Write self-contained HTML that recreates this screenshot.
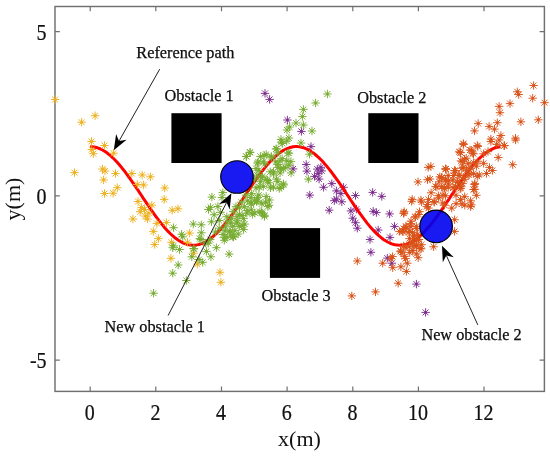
<!DOCTYPE html>
<html><head><meta charset="utf-8"><title>Plot</title><style>html,body{margin:0;padding:0;background:#fff;width:550px;height:456px;overflow:hidden}svg{display:block}</style></head><body>
<svg width="550" height="456" viewBox="0 0 550 456">
<rect width="550" height="456" fill="#fff"/>
<g stroke="#707070" stroke-width="1.45" fill="none">
<rect x="55" y="6.5" width="489.4" height="384.9"/>
<path d="M90.2 391.4v-4.8M90.2 6.5v4.8M155.8 391.4v-4.8M155.8 6.5v4.8M221.5 391.4v-4.8M221.5 6.5v4.8M287.1 391.4v-4.8M287.1 6.5v4.8M352.8 391.4v-4.8M352.8 6.5v4.8M418.4 391.4v-4.8M418.4 6.5v4.8M484.0 391.4v-4.8M484.0 6.5v4.8M55 31.6h4.8M544.4 31.6h-4.8M55 195.9h4.8M544.4 195.9h-4.8M55 360.2h4.8M544.4 360.2h-4.8" stroke-width="1.2"/>
</g>
<path d="M260.8 93.4h8.4M265.0 89.2v8.4M262.0 90.4l5.9 5.9M262.0 96.4l5.9 -5.9M265.4 99.4h8.4M269.6 95.2v8.4M266.6 96.4l5.9 5.9M266.6 102.4l5.9 -5.9M283.2 120.0h8.4M287.4 115.8v8.4M284.4 117.0l5.9 5.9M284.4 123.0l5.9 -5.9M297.2 131.4h8.4M301.4 127.2v8.4M298.4 128.4l5.9 5.9M298.4 134.4l5.9 -5.9M306.8 146.6h8.4M311.0 142.4v8.4M308.0 143.6l5.9 5.9M308.0 149.6l5.9 -5.9M302.0 164.5h8.4M306.2 160.3v8.4M303.2 161.5l5.9 5.9M303.2 167.5l5.9 -5.9M288.9 168.9h8.4M293.1 164.7v8.4M290.1 165.9l5.9 5.9M290.1 171.9l5.9 -5.9M302.7 171.1h8.4M306.9 166.9v8.4M303.9 168.1l5.9 5.9M303.9 174.1l5.9 -5.9M305.6 195.1h8.4M309.8 190.9v8.4M306.8 192.1l5.9 5.9M306.8 198.1l5.9 -5.9M313.1 169.1h8.4M317.3 164.9v8.4M314.3 166.1l5.9 5.9M314.3 172.1l5.9 -5.9M316.7 167.3h8.4M320.9 163.1v8.4M317.9 164.3l5.9 5.9M317.9 170.3l5.9 -5.9M314.0 173.6h8.4M318.2 169.4v8.4M315.2 170.6l5.9 5.9M315.2 176.6l5.9 -5.9M310.3 176.4h8.4M314.5 172.2v8.4M311.5 173.4l5.9 5.9M311.5 179.4l5.9 -5.9M317.6 170.9h8.4M321.8 166.7v8.4M318.8 167.9l5.9 5.9M318.8 173.9l5.9 -5.9M314.9 179.1h8.4M319.1 174.9v8.4M316.1 176.1l5.9 5.9M316.1 182.1l5.9 -5.9M319.4 187.3h8.4M323.6 183.1v8.4M320.6 184.3l5.9 5.9M320.6 190.3l5.9 -5.9M327.6 183.6h8.4M331.8 179.4v8.4M328.8 180.6l5.9 5.9M328.8 186.6l5.9 -5.9M332.2 190.9h8.4M336.4 186.7v8.4M333.4 187.9l5.9 5.9M333.4 193.9l5.9 -5.9M339.4 187.3h8.4M343.6 183.1v8.4M340.6 184.3l5.9 5.9M340.6 190.3l5.9 -5.9M336.7 193.6h8.4M340.9 189.4v8.4M337.9 190.6l5.9 5.9M337.9 196.6l5.9 -5.9M332.2 199.1h8.4M336.4 194.9v8.4M333.4 196.1l5.9 5.9M333.4 202.1l5.9 -5.9M337.6 201.8h8.4M341.8 197.6v8.4M338.8 198.8l5.9 5.9M338.8 204.8l5.9 -5.9M351.3 195.5h8.4M355.5 191.3v8.4M352.5 192.5l5.9 5.9M352.5 198.5l5.9 -5.9M368.5 192.4h8.4M372.7 188.2v8.4M369.7 189.4l5.9 5.9M369.7 195.4l5.9 -5.9M377.6 196.4h8.4M381.8 192.2v8.4M378.8 193.4l5.9 5.9M378.8 199.4l5.9 -5.9M325.0 210.2h8.4M329.2 206.0v8.4M326.2 207.2l5.9 5.9M326.2 213.2l5.9 -5.9M330.1 200.7h8.4M334.3 196.5v8.4M331.3 197.7l5.9 5.9M331.3 203.7l5.9 -5.9M346.7 210.9h8.4M350.9 206.7v8.4M347.9 207.9l5.9 5.9M347.9 213.9l5.9 -5.9M352.2 209.1h8.4M356.4 204.9v8.4M353.4 206.1l5.9 5.9M353.4 212.1l5.9 -5.9M348.5 218.2h8.4M352.7 214.0v8.4M349.7 215.2l5.9 5.9M349.7 221.2l5.9 -5.9M351.3 222.7h8.4M355.5 218.5v8.4M352.5 219.7l5.9 5.9M352.5 225.7l5.9 -5.9M353.1 228.2h8.4M357.3 224.0v8.4M354.3 225.2l5.9 5.9M354.3 231.2l5.9 -5.9M369.0 211.3h8.4M373.2 207.1v8.4M370.2 208.3l5.9 5.9M370.2 214.3l5.9 -5.9M372.2 212.6h8.4M376.4 208.4v8.4M373.4 209.6l5.9 5.9M373.4 215.6l5.9 -5.9M390.3 226.4h8.4M394.5 222.2v8.4M391.5 223.4l5.9 5.9M391.5 229.4l5.9 -5.9M374.0 230.0h8.4M378.2 225.8v8.4M375.2 227.0l5.9 5.9M375.2 233.0l5.9 -5.9M365.8 239.5h8.4M370.0 235.3v8.4M367.0 236.5l5.9 5.9M367.0 242.5l5.9 -5.9M385.8 237.4h8.4M390.0 233.2v8.4M387.0 234.4l5.9 5.9M387.0 240.4l5.9 -5.9M366.7 252.3h8.4M370.9 248.1v8.4M367.9 249.3l5.9 5.9M367.9 255.3l5.9 -5.9M383.1 258.1h8.4M387.3 253.9v8.4M384.3 255.1l5.9 5.9M384.3 261.1l5.9 -5.9M387.6 263.2h8.4M391.8 259.0v8.4M388.8 260.2l5.9 5.9M388.8 266.2l5.9 -5.9M412.2 284.1h8.4M416.4 279.9v8.4M413.4 281.1l5.9 5.9M413.4 287.1l5.9 -5.9M385.4 213.9h8.4M389.6 209.7v8.4M386.6 210.9l5.9 5.9M386.6 216.9l5.9 -5.9M421.4 312.4h8.4M425.6 308.2v8.4M422.6 309.4l5.9 5.9M422.6 315.4l5.9 -5.9" stroke="#7E2F8E" stroke-width="0.95" fill="none"/><path d="M265.0 93.4h0M269.6 99.4h0M287.4 120.0h0M301.4 131.4h0M311.0 146.6h0M306.2 164.5h0M293.1 168.9h0M306.9 171.1h0M309.8 195.1h0M317.3 169.1h0M320.9 167.3h0M318.2 173.6h0M314.5 176.4h0M321.8 170.9h0M319.1 179.1h0M323.6 187.3h0M331.8 183.6h0M336.4 190.9h0M343.6 187.3h0M340.9 193.6h0M336.4 199.1h0M341.8 201.8h0M355.5 195.5h0M372.7 192.4h0M381.8 196.4h0M329.2 210.2h0M334.3 200.7h0M350.9 210.9h0M356.4 209.1h0M352.7 218.2h0M355.5 222.7h0M357.3 228.2h0M373.2 211.3h0M376.4 212.6h0M394.5 226.4h0M378.2 230.0h0M370.0 239.5h0M390.0 237.4h0M370.9 252.3h0M387.3 258.1h0M391.8 263.2h0M416.4 284.1h0M389.6 213.9h0M425.6 312.4h0" stroke="#7E2F8E" stroke-width="2.6" stroke-linecap="round" fill="none"/>
<polyline points="90.2,146.6 92.3,146.7 94.3,147.0 96.4,147.5 98.4,148.1 100.5,149.0 102.5,150.0 104.6,151.2 106.6,152.6 108.7,154.2 110.7,155.9 112.8,157.8 114.8,159.8 116.9,162.0 118.9,164.3 121.0,166.7 123.0,169.3 125.1,171.9 127.1,174.6 129.2,177.5 131.2,180.4 133.3,183.3 135.3,186.3 137.4,189.3 139.4,192.4 141.5,195.5 143.5,198.6 145.6,201.6 147.6,204.7 149.7,207.7 151.7,210.7 153.8,213.6 155.8,216.4 157.9,219.2 159.9,221.8 162.0,224.4 164.0,226.9 166.1,229.2 168.1,231.4 170.2,233.5 172.2,235.4 174.3,237.2 176.4,238.8 178.4,240.2 180.5,241.5 182.5,242.6 184.6,243.5 186.6,244.2 188.7,244.7 190.7,245.1 192.8,245.2 194.8,245.2 196.9,244.9 198.9,244.5 201.0,243.9 203.0,243.1 205.1,242.1 207.1,240.9 209.2,239.6 211.2,238.0 213.3,236.4 215.3,234.5 217.4,232.5 219.4,230.4 221.5,228.1 223.5,225.7 225.6,223.2 227.6,220.6 229.7,217.9 231.7,215.1 233.8,212.2 235.8,209.3 237.9,206.3 239.9,203.3 242.0,200.2 244.0,197.1 246.1,194.0 248.1,191.0 250.2,187.9 252.2,184.9 254.3,181.9 256.4,179.0 258.4,176.1 260.5,173.3 262.5,170.7 264.6,168.1 266.6,165.6 268.7,163.2 270.7,161.0 272.8,158.9 274.8,156.9 276.9,155.1 278.9,153.4 281.0,152.0 283.0,150.6 285.1,149.5 287.1,148.6 289.2,147.8 291.2,147.2 293.3,146.8 295.3,146.6 297.4,146.6 299.4,146.8 301.5,147.2 303.5,147.7 305.6,148.5 307.6,149.4 309.7,150.6 311.7,151.9 313.8,153.3 315.8,155.0 317.9,156.8 319.9,158.7 322.0,160.8 324.0,163.1 326.1,165.4 328.1,167.9 330.2,170.5 332.2,173.2 334.3,176.0 336.4,178.8 338.4,181.7 340.5,184.7 342.5,187.7 344.6,190.8 346.6,193.9 348.7,196.9 350.7,200.0 352.8,203.1 354.8,206.1 356.9,209.1 358.9,212.0 361.0,214.9 363.0,217.7 365.1,220.4 367.1,223.1 369.2,225.6 371.2,228.0 373.3,230.3 375.3,232.4 377.4,234.4 379.4,236.2 381.5,237.9 383.5,239.5 385.6,240.8 387.6,242.0 389.7,243.0 391.7,243.8 393.8,244.5 395.8,244.9 397.9,245.1 399.9,245.2 402.0,245.1 404.0,244.7 406.1,244.2 408.1,243.5 410.2,242.6 412.2,241.5 414.3,240.3 416.3,238.9 418.4,237.3 420.5,235.5 422.5,233.6 424.6,231.5 426.6,229.3 428.7,227.0 430.7,224.6 432.8,222.0 434.8,219.3 436.9,216.6 438.9,213.8 441.0,210.9 443.0,207.9 445.1,204.9 447.1,201.8 449.2,198.8 451.2,195.7 453.3,192.6 455.3,189.5 457.4,186.5 459.4,183.5 461.5,180.5 463.5,177.6 465.6,174.8 467.6,172.1 469.7,169.4 471.7,166.9 473.8,164.4 475.8,162.1 477.9,160.0 479.9,157.9 482.0,156.0 484.0,154.3 486.1,152.7 488.1,151.3 490.2,150.1 492.2,149.0 494.3,148.2 496.3,147.5 498.4,147.0 500.4,146.7" fill="none" stroke="#f00" stroke-width="3" stroke-linejoin="round"/>
<path d="M50.9 99.5h8.4M55.1 95.3v8.4M52.1 96.5l5.9 5.9M52.1 102.5l5.9 -5.9M90.9 115.7h8.4M95.1 111.5v8.4M92.1 112.7l5.9 5.9M92.1 118.7l5.9 -5.9M77.4 122.2h8.4M81.6 118.0v8.4M78.6 119.2l5.9 5.9M78.6 125.2l5.9 -5.9M87.3 141.4h8.4M91.5 137.2v8.4M88.5 138.4l5.9 5.9M88.5 144.4l5.9 -5.9M100.3 145.5h8.4M104.5 141.3v8.4M101.5 142.5l5.9 5.9M101.5 148.5l5.9 -5.9M87.6 149.5h8.4M91.8 145.3v8.4M88.8 146.5l5.9 5.9M88.8 152.5l5.9 -5.9M89.1 153.7h8.4M93.3 149.5v8.4M90.3 150.7l5.9 5.9M90.3 156.7l5.9 -5.9M109.4 153.2h8.4M113.6 149.0v8.4M110.6 150.2l5.9 5.9M110.6 156.2l5.9 -5.9M70.3 172.6h8.4M74.5 168.4v8.4M71.5 169.6l5.9 5.9M71.5 175.6l5.9 -5.9M98.3 169.0h8.4M102.5 164.8v8.4M99.5 166.0l5.9 5.9M99.5 172.0l5.9 -5.9M100.8 171.0h8.4M105.0 166.8v8.4M102.0 168.0l5.9 5.9M102.0 174.0l5.9 -5.9M111.3 173.5h8.4M115.5 169.3v8.4M112.5 170.5l5.9 5.9M112.5 176.5l5.9 -5.9M99.4 179.9h8.4M103.6 175.7v8.4M100.6 176.9l5.9 5.9M100.6 182.9l5.9 -5.9M113.1 187.7h8.4M117.3 183.5v8.4M114.3 184.7l5.9 5.9M114.3 190.7l5.9 -5.9M100.3 193.5h8.4M104.5 189.3v8.4M101.5 190.5l5.9 5.9M101.5 196.5l5.9 -5.9M108.9 193.2h8.4M113.1 189.0v8.4M110.1 190.2l5.9 5.9M110.1 196.2l5.9 -5.9M127.6 173.5h8.4M131.8 169.3v8.4M128.8 170.5l5.9 5.9M128.8 176.5l5.9 -5.9M138.0 175.0h8.4M142.2 170.8v8.4M139.2 172.0l5.9 5.9M139.2 178.0l5.9 -5.9M146.2 176.8h8.4M150.4 172.6v8.4M147.4 173.8l5.9 5.9M147.4 179.8l5.9 -5.9M133.1 184.5h8.4M137.3 180.3v8.4M134.3 181.5l5.9 5.9M134.3 187.5l5.9 -5.9M139.4 185.0h8.4M143.6 180.8v8.4M140.6 182.0l5.9 5.9M140.6 188.0l5.9 -5.9M133.8 201.5h8.4M138.0 197.3v8.4M135.0 198.5l5.9 5.9M135.0 204.5l5.9 -5.9M137.4 207.4h8.4M141.6 203.2v8.4M138.6 204.4l5.9 5.9M138.6 210.4l5.9 -5.9M136.0 211.7h8.4M140.2 207.5v8.4M137.2 208.7l5.9 5.9M137.2 214.7l5.9 -5.9M140.3 209.5h8.4M144.5 205.3v8.4M141.5 206.5l5.9 5.9M141.5 212.5l5.9 -5.9M144.7 213.2h8.4M148.9 209.0v8.4M145.9 210.2l5.9 5.9M145.9 216.2l5.9 -5.9M147.6 205.2h8.4M151.8 201.0v8.4M148.8 202.2l5.9 5.9M148.8 208.2l5.9 -5.9M141.1 216.1h8.4M145.3 211.9v8.4M142.3 213.1l5.9 5.9M142.3 219.1l5.9 -5.9M128.7 219.0h8.4M132.9 214.8v8.4M129.9 216.0l5.9 5.9M129.9 222.0l5.9 -5.9M143.3 219.0h8.4M147.5 214.8v8.4M144.5 216.0l5.9 5.9M144.5 222.0l5.9 -5.9M160.0 199.4h8.4M164.2 195.2v8.4M161.2 196.4l5.9 5.9M161.2 202.4l5.9 -5.9M168.0 210.3h8.4M172.2 206.1v8.4M169.2 207.3l5.9 5.9M169.2 213.3l5.9 -5.9M173.8 208.8h8.4M178.0 204.6v8.4M175.0 205.8l5.9 5.9M175.0 211.8l5.9 -5.9M152.7 223.4h8.4M156.9 219.2v8.4M153.9 220.4l5.9 5.9M153.9 226.4l5.9 -5.9M162.2 222.6h8.4M166.4 218.4v8.4M163.4 219.6l5.9 5.9M163.4 225.6l5.9 -5.9M149.1 231.4h8.4M153.3 227.2v8.4M150.3 228.4l5.9 5.9M150.3 234.4l5.9 -5.9M154.2 238.6h8.4M158.4 234.4v8.4M155.4 235.6l5.9 5.9M155.4 241.6l5.9 -5.9M150.5 244.5h8.4M154.7 240.3v8.4M151.7 241.5l5.9 5.9M151.7 247.5l5.9 -5.9M167.3 242.3h8.4M171.5 238.1v8.4M168.5 239.3l5.9 5.9M168.5 245.3l5.9 -5.9M185.4 233.1h8.4M189.6 228.9v8.4M186.6 230.1l5.9 5.9M186.6 236.1l5.9 -5.9M183.3 242.3h8.4M187.5 238.1v8.4M184.5 239.3l5.9 5.9M184.5 245.3l5.9 -5.9M160.5 188.0h8.4M164.7 183.8v8.4M161.7 185.0l5.9 5.9M161.7 191.0l5.9 -5.9M166.7 258.3h8.4M170.9 254.1v8.4M167.9 255.3l5.9 5.9M167.9 261.3l5.9 -5.9M189.4 253.2h8.4M193.6 249.0v8.4M190.6 250.2l5.9 5.9M190.6 256.2l5.9 -5.9M193.1 264.1h8.4M197.3 259.9v8.4M194.3 261.1l5.9 5.9M194.3 267.1l5.9 -5.9M215.8 272.3h8.4M220.0 268.1v8.4M217.0 269.3l5.9 5.9M217.0 275.3l5.9 -5.9M216.7 282.3h8.4M220.9 278.1v8.4M217.9 279.3l5.9 5.9M217.9 285.3l5.9 -5.9" stroke="#EDB120" stroke-width="0.95" fill="none"/><path d="M55.1 99.5h0M95.1 115.7h0M81.6 122.2h0M91.5 141.4h0M104.5 145.5h0M91.8 149.5h0M93.3 153.7h0M113.6 153.2h0M74.5 172.6h0M102.5 169.0h0M105.0 171.0h0M115.5 173.5h0M103.6 179.9h0M117.3 187.7h0M104.5 193.5h0M113.1 193.2h0M131.8 173.5h0M142.2 175.0h0M150.4 176.8h0M137.3 184.5h0M143.6 185.0h0M138.0 201.5h0M141.6 207.4h0M140.2 211.7h0M144.5 209.5h0M148.9 213.2h0M151.8 205.2h0M145.3 216.1h0M132.9 219.0h0M147.5 219.0h0M164.2 199.4h0M172.2 210.3h0M178.0 208.8h0M156.9 223.4h0M166.4 222.6h0M153.3 231.4h0M158.4 238.6h0M154.7 244.5h0M171.5 242.3h0M189.6 233.1h0M187.5 242.3h0M164.7 188.0h0M170.9 258.3h0M193.6 253.2h0M197.3 264.1h0M220.0 272.3h0M220.9 282.3h0" stroke="#EDB120" stroke-width="2.6" stroke-linecap="round" fill="none"/>
<path d="M169.4 227.7h8.4M173.6 223.5v8.4M170.6 224.7l5.9 5.9M170.6 230.7l5.9 -5.9M177.4 234.3h8.4M181.6 230.1v8.4M178.6 231.3l5.9 5.9M178.6 237.3l5.9 -5.9M189.1 224.1h8.4M193.3 219.9v8.4M190.3 221.1l5.9 5.9M190.3 227.1l5.9 -5.9M197.1 224.8h8.4M201.3 220.6v8.4M198.3 221.8l5.9 5.9M198.3 227.8l5.9 -5.9M204.3 209.5h8.4M208.5 205.3v8.4M205.5 206.5l5.9 5.9M205.5 212.5l5.9 -5.9M197.1 232.8h8.4M201.3 228.6v8.4M198.3 229.8l5.9 5.9M198.3 235.8l5.9 -5.9M195.6 238.6h8.4M199.8 234.4v8.4M196.8 235.6l5.9 5.9M196.8 241.6l5.9 -5.9M169.4 245.9h8.4M173.6 241.7v8.4M170.6 242.9l5.9 5.9M170.6 248.9l5.9 -5.9M175.3 249.5h8.4M179.5 245.3v8.4M176.5 246.5l5.9 5.9M176.5 252.5l5.9 -5.9M189.8 248.8h8.4M194.0 244.6v8.4M191.0 245.8l5.9 5.9M191.0 251.8l5.9 -5.9M201.4 243.0h8.4M205.6 238.8v8.4M202.6 240.0l5.9 5.9M202.6 246.0l5.9 -5.9M323.2 94.0h8.4M327.4 89.8v8.4M324.4 91.0l5.9 5.9M324.4 97.0l5.9 -5.9M311.4 103.0h8.4M315.6 98.8v8.4M312.6 100.0l5.9 5.9M312.6 106.0l5.9 -5.9M299.2 109.4h8.4M303.4 105.2v8.4M300.4 106.4l5.9 5.9M300.4 112.4l5.9 -5.9M298.2 116.6h8.4M302.4 112.4v8.4M299.4 113.6l5.9 5.9M299.4 119.6l5.9 -5.9M291.8 123.0h8.4M296.0 118.8v8.4M293.0 120.0l5.9 5.9M293.0 126.0l5.9 -5.9M299.2 125.0h8.4M303.4 120.8v8.4M300.4 122.0l5.9 5.9M300.4 128.0l5.9 -5.9M285.4 127.0h8.4M289.6 122.8v8.4M286.6 124.0l5.9 5.9M286.6 130.0l5.9 -5.9M282.8 130.0h8.4M287.0 125.8v8.4M284.0 127.0l5.9 5.9M284.0 133.0l5.9 -5.9M307.8 131.0h8.4M312.0 126.8v8.4M309.0 128.0l5.9 5.9M309.0 134.0l5.9 -5.9M284.8 138.0h8.4M289.0 133.8v8.4M286.0 135.0l5.9 5.9M286.0 141.0l5.9 -5.9M276.8 139.4h8.4M281.0 135.2v8.4M278.0 136.4l5.9 5.9M278.0 142.4l5.9 -5.9M278.2 143.4h8.4M282.4 139.2v8.4M279.4 140.4l5.9 5.9M279.4 146.4l5.9 -5.9M296.8 143.0h8.4M301.0 138.8v8.4M298.0 140.0l5.9 5.9M298.0 146.0l5.9 -5.9M271.8 149.0h8.4M276.0 144.8v8.4M273.0 146.0l5.9 5.9M273.0 152.0l5.9 -5.9M305.3 154.2h8.4M309.5 150.0v8.4M306.5 151.2l5.9 5.9M306.5 157.2l5.9 -5.9M242.3 156.5h8.4M246.5 152.3v8.4M243.5 153.5l5.9 5.9M243.5 159.5l5.9 -5.9M246.0 152.2h8.4M250.2 148.0v8.4M247.2 149.2l5.9 5.9M247.2 155.2l5.9 -5.9M256.2 156.5h8.4M260.4 152.3v8.4M257.4 153.5l5.9 5.9M257.4 159.5l5.9 -5.9M262.0 154.4h8.4M266.2 150.2v8.4M263.2 151.4l5.9 5.9M263.2 157.4l5.9 -5.9M253.3 163.1h8.4M257.5 158.9v8.4M254.5 160.1l5.9 5.9M254.5 166.1l5.9 -5.9M260.5 163.8h8.4M264.7 159.6v8.4M261.7 160.8l5.9 5.9M261.7 166.8l5.9 -5.9M267.1 157.3h8.4M271.3 153.1v8.4M268.3 154.3l5.9 5.9M268.3 160.3l5.9 -5.9M273.6 152.9h8.4M277.8 148.7v8.4M274.8 149.9l5.9 5.9M274.8 155.9l5.9 -5.9M278.0 158.7h8.4M282.2 154.5v8.4M279.2 155.7l5.9 5.9M279.2 161.7l5.9 -5.9M283.8 152.9h8.4M288.0 148.7v8.4M285.0 149.9l5.9 5.9M285.0 155.9l5.9 -5.9M286.7 161.6h8.4M290.9 157.4v8.4M287.9 158.6l5.9 5.9M287.9 164.6l5.9 -5.9M273.6 164.5h8.4M277.8 160.3v8.4M274.8 161.5l5.9 5.9M274.8 167.5l5.9 -5.9M269.3 171.8h8.4M273.5 167.6v8.4M270.5 168.8l5.9 5.9M270.5 174.8l5.9 -5.9M276.5 168.9h8.4M280.7 164.7v8.4M277.7 165.9l5.9 5.9M277.7 171.9l5.9 -5.9M280.9 167.5h8.4M285.1 163.3v8.4M282.1 164.5l5.9 5.9M282.1 170.5l5.9 -5.9M254.7 170.4h8.4M258.9 166.2v8.4M255.9 167.4l5.9 5.9M255.9 173.4l5.9 -5.9M250.3 179.1h8.4M254.5 174.9v8.4M251.5 176.1l5.9 5.9M251.5 182.1l5.9 -5.9M257.6 177.6h8.4M261.8 173.4v8.4M258.8 174.6l5.9 5.9M258.8 180.6l5.9 -5.9M263.4 180.5h8.4M267.6 176.3v8.4M264.6 177.5l5.9 5.9M264.6 183.5l5.9 -5.9M272.2 179.1h8.4M276.4 174.9v8.4M273.4 176.1l5.9 5.9M273.4 182.1l5.9 -5.9M279.4 184.9h8.4M283.6 180.7v8.4M280.6 181.9l5.9 5.9M280.6 187.9l5.9 -5.9M275.1 188.5h8.4M279.3 184.3v8.4M276.3 185.5l5.9 5.9M276.3 191.5l5.9 -5.9M266.3 187.8h8.4M270.5 183.6v8.4M267.5 184.8l5.9 5.9M267.5 190.8l5.9 -5.9M259.1 186.4h8.4M263.3 182.2v8.4M260.3 183.4l5.9 5.9M260.3 189.4l5.9 -5.9M251.8 187.8h8.4M256.0 183.6v8.4M253.0 184.8l5.9 5.9M253.0 190.8l5.9 -5.9M254.7 195.1h8.4M258.9 190.9v8.4M255.9 192.1l5.9 5.9M255.9 198.1l5.9 -5.9M247.4 193.6h8.4M251.6 189.4v8.4M248.6 190.6l5.9 5.9M248.6 196.6l5.9 -5.9M262.0 196.5h8.4M266.2 192.3v8.4M263.2 193.5l5.9 5.9M263.2 199.5l5.9 -5.9M250.3 200.9h8.4M254.5 196.7v8.4M251.5 197.9l5.9 5.9M251.5 203.9l5.9 -5.9M243.1 200.9h8.4M247.3 196.7v8.4M244.3 197.9l5.9 5.9M244.3 203.9l5.9 -5.9M257.6 203.8h8.4M261.8 199.6v8.4M258.8 200.8l5.9 5.9M258.8 206.8l5.9 -5.9M264.9 205.3h8.4M269.1 201.1v8.4M266.1 202.3l5.9 5.9M266.1 208.3l5.9 -5.9M240.2 206.7h8.4M244.4 202.5v8.4M241.4 203.7l5.9 5.9M241.4 209.7l5.9 -5.9M304.2 179.1h8.4M308.4 174.9v8.4M305.4 176.1l5.9 5.9M305.4 182.1l5.9 -5.9M207.7 197.1h8.4M211.9 192.9v8.4M208.9 194.1l5.9 5.9M208.9 200.1l5.9 -5.9M218.6 192.6h8.4M222.8 188.4v8.4M219.8 189.6l5.9 5.9M219.8 195.6l5.9 -5.9M217.8 197.5h8.4M222.0 193.3v8.4M219.0 194.5l5.9 5.9M219.0 200.5l5.9 -5.9M206.4 207.3h8.4M210.6 203.1v8.4M207.6 204.3l5.9 5.9M207.6 210.3l5.9 -5.9M213.7 206.5h8.4M217.9 202.3v8.4M214.9 203.5l5.9 5.9M214.9 209.5l5.9 -5.9M216.3 212.3h8.4M220.5 208.1v8.4M217.5 209.3l5.9 5.9M217.5 215.3l5.9 -5.9M209.9 214.8h8.4M214.1 210.6v8.4M211.1 211.8l5.9 5.9M211.1 217.8l5.9 -5.9M207.3 221.8h8.4M211.5 217.6v8.4M208.5 218.8l5.9 5.9M208.5 224.8l5.9 -5.9M215.0 220.5h8.4M219.2 216.3v8.4M216.2 217.5l5.9 5.9M216.2 223.5l5.9 -5.9M222.6 216.7h8.4M226.8 212.5v8.4M223.8 213.7l5.9 5.9M223.8 219.7l5.9 -5.9M229.0 211.6h8.4M233.2 207.4v8.4M230.2 208.6l5.9 5.9M230.2 214.6l5.9 -5.9M235.3 207.8h8.4M239.5 203.6v8.4M236.5 204.8l5.9 5.9M236.5 210.8l5.9 -5.9M232.8 216.7h8.4M237.0 212.5v8.4M234.0 213.7l5.9 5.9M234.0 219.7l5.9 -5.9M237.9 215.5h8.4M242.1 211.3v8.4M239.1 212.5l5.9 5.9M239.1 218.5l5.9 -5.9M243.0 210.4h8.4M247.2 206.2v8.4M244.2 207.4l5.9 5.9M244.2 213.4l5.9 -5.9M246.8 204.0h8.4M251.0 199.8v8.4M248.0 201.0l5.9 5.9M248.0 207.0l5.9 -5.9M253.2 197.6h8.4M257.4 193.4v8.4M254.4 194.6l5.9 5.9M254.4 200.6l5.9 -5.9M250.6 212.9h8.4M254.8 208.7v8.4M251.8 209.9l5.9 5.9M251.8 215.9l5.9 -5.9M255.7 211.6h8.4M259.9 207.4v8.4M256.9 208.6l5.9 5.9M256.9 214.6l5.9 -5.9M226.4 223.1h8.4M230.6 218.9v8.4M227.6 220.1l5.9 5.9M227.6 226.1l5.9 -5.9M232.8 223.1h8.4M237.0 218.9v8.4M234.0 220.1l5.9 5.9M234.0 226.1l5.9 -5.9M237.9 225.6h8.4M242.1 221.4v8.4M239.1 222.6l5.9 5.9M239.1 228.6l5.9 -5.9M221.3 226.9h8.4M225.5 222.7v8.4M222.5 223.9l5.9 5.9M222.5 229.9l5.9 -5.9M215.0 228.2h8.4M219.2 224.0v8.4M216.2 225.2l5.9 5.9M216.2 231.2l5.9 -5.9M211.2 232.0h8.4M215.4 227.8v8.4M212.4 229.0l5.9 5.9M212.4 235.0l5.9 -5.9M218.8 234.5h8.4M223.0 230.3v8.4M220.0 231.5l5.9 5.9M220.0 237.5l5.9 -5.9M226.4 232.0h8.4M230.6 227.8v8.4M227.6 229.0l5.9 5.9M227.6 235.0l5.9 -5.9M229.0 237.1h8.4M233.2 232.9v8.4M230.2 234.1l5.9 5.9M230.2 240.1l5.9 -5.9M220.1 240.3h8.4M224.3 236.1v8.4M221.3 237.3l5.9 5.9M221.3 243.3l5.9 -5.9M206.1 239.6h8.4M210.3 235.4v8.4M207.3 236.6l5.9 5.9M207.3 242.6l5.9 -5.9M246.8 197.6h8.4M251.0 193.4v8.4M248.0 194.6l5.9 5.9M248.0 200.6l5.9 -5.9M241.7 195.1h8.4M245.9 190.9v8.4M242.9 192.1l5.9 5.9M242.9 198.1l5.9 -5.9M252.3 201.5h8.4M256.5 197.3v8.4M253.5 198.5l5.9 5.9M253.5 204.5l5.9 -5.9M257.3 212.4h8.4M261.5 208.2v8.4M258.5 209.4l5.9 5.9M258.5 215.4l5.9 -5.9M260.3 215.3h8.4M264.5 211.1v8.4M261.5 212.3l5.9 5.9M261.5 218.3l5.9 -5.9M265.3 200.0h8.4M269.5 195.8v8.4M266.5 197.0l5.9 5.9M266.5 203.0l5.9 -5.9M168.5 247.7h8.4M172.7 243.5v8.4M169.7 244.7l5.9 5.9M169.7 250.7l5.9 -5.9M174.0 265.0h8.4M178.2 260.8v8.4M175.2 262.0l5.9 5.9M175.2 268.0l5.9 -5.9M168.5 273.2h8.4M172.7 269.0v8.4M169.7 270.2l5.9 5.9M169.7 276.2l5.9 -5.9M182.2 280.5h8.4M186.4 276.3v8.4M183.4 277.5l5.9 5.9M183.4 283.5l5.9 -5.9M149.4 293.2h8.4M153.6 289.0v8.4M150.6 290.2l5.9 5.9M150.6 296.2l5.9 -5.9M187.6 256.8h8.4M191.8 252.6v8.4M188.8 253.8l5.9 5.9M188.8 259.8l5.9 -5.9M198.5 262.3h8.4M202.7 258.1v8.4M199.7 259.3l5.9 5.9M199.7 265.3l5.9 -5.9M194.9 259.5h8.4M199.1 255.3v8.4M196.1 256.5l5.9 5.9M196.1 262.5l5.9 -5.9M206.7 256.8h8.4M210.9 252.6v8.4M207.9 253.8l5.9 5.9M207.9 259.8l5.9 -5.9M212.2 247.7h8.4M216.4 243.5v8.4M213.4 244.7l5.9 5.9M213.4 250.7l5.9 -5.9M202.2 251.4h8.4M206.4 247.2v8.4M203.4 248.4l5.9 5.9M203.4 254.4l5.9 -5.9M196.7 239.5h8.4M200.9 235.3v8.4M197.9 236.5l5.9 5.9M197.9 242.5l5.9 -5.9M204.0 243.2h8.4M208.2 239.0v8.4M205.2 240.2l5.9 5.9M205.2 246.2l5.9 -5.9M224.9 254.1h8.4M229.1 249.9v8.4M226.1 251.1l5.9 5.9M226.1 257.1l5.9 -5.9M220.3 237.7h8.4M224.5 233.5v8.4M221.5 234.7l5.9 5.9M221.5 240.7l5.9 -5.9M229.4 236.8h8.4M233.6 232.6v8.4M230.6 233.8l5.9 5.9M230.6 239.8l5.9 -5.9M178.5 236.8h8.4M182.7 232.6v8.4M179.7 233.8l5.9 5.9M179.7 239.8l5.9 -5.9M189.4 248.6h8.4M193.6 244.4v8.4M190.6 245.6l5.9 5.9M190.6 251.6l5.9 -5.9M245.7 152.6h8.4M249.9 148.4v8.4M246.9 149.6l5.9 5.9M246.9 155.6l5.9 -5.9M241.9 156.4h8.4M246.1 152.2v8.4M243.1 153.4l5.9 5.9M243.1 159.4l5.9 -5.9M277.0 142.2h8.4M281.2 138.0v8.4M278.2 139.2l5.9 5.9M278.2 145.2l5.9 -5.9M282.5 141.1h8.4M286.7 136.9v8.4M283.7 138.1l5.9 5.9M283.7 144.1l5.9 -5.9M272.6 148.8h8.4M276.8 144.6v8.4M273.8 145.8l5.9 5.9M273.8 151.8l5.9 -5.9M284.7 153.2h8.4M288.9 149.0v8.4M285.9 150.2l5.9 5.9M285.9 156.2l5.9 -5.9M260.0 155.4h8.4M264.2 151.2v8.4M261.2 152.4l5.9 5.9M261.2 158.4l5.9 -5.9M267.1 156.4h8.4M271.3 152.2v8.4M268.3 153.4l5.9 5.9M268.3 159.4l5.9 -5.9M254.0 161.9h8.4M258.2 157.7v8.4M255.2 158.9l5.9 5.9M255.2 164.9l5.9 -5.9M259.4 161.9h8.4M263.6 157.7v8.4M260.6 158.9l5.9 5.9M260.6 164.9l5.9 -5.9M271.5 161.9h8.4M275.7 157.7v8.4M272.7 158.9l5.9 5.9M272.7 164.9l5.9 -5.9M275.9 160.8h8.4M280.1 156.6v8.4M277.1 157.8l5.9 5.9M277.1 163.8l5.9 -5.9M282.5 160.8h8.4M286.7 156.6v8.4M283.7 157.8l5.9 5.9M283.7 163.8l5.9 -5.9M273.7 167.4h8.4M277.9 163.2v8.4M274.9 164.4l5.9 5.9M274.9 170.4l5.9 -5.9M279.2 168.5h8.4M283.4 164.3v8.4M280.4 165.5l5.9 5.9M280.4 171.5l5.9 -5.9M284.7 165.2h8.4M288.9 161.0v8.4M285.9 162.2l5.9 5.9M285.9 168.2l5.9 -5.9M251.8 168.5h8.4M256.0 164.3v8.4M253.0 165.5l5.9 5.9M253.0 171.5l5.9 -5.9M266.0 171.8h8.4M270.2 167.6v8.4M267.2 168.8l5.9 5.9M267.2 174.8l5.9 -5.9M269.3 174.0h8.4M273.5 169.8v8.4M270.5 171.0l5.9 5.9M270.5 177.0l5.9 -5.9M275.9 172.9h8.4M280.1 168.7v8.4M277.1 169.9l5.9 5.9M277.1 175.9l5.9 -5.9M252.9 175.1h8.4M257.1 170.9v8.4M254.1 172.1l5.9 5.9M254.1 178.1l5.9 -5.9M258.3 176.2h8.4M262.5 172.0v8.4M259.5 173.2l5.9 5.9M259.5 179.2l5.9 -5.9M262.7 179.5h8.4M266.9 175.3v8.4M263.9 176.5l5.9 5.9M263.9 182.5l5.9 -5.9M256.2 181.7h8.4M260.4 177.5v8.4M257.4 178.7l5.9 5.9M257.4 184.7l5.9 -5.9M264.9 182.8h8.4M269.1 178.6v8.4M266.1 179.8l5.9 5.9M266.1 185.8l5.9 -5.9M273.7 181.7h8.4M277.9 177.5v8.4M274.9 178.7l5.9 5.9M274.9 184.7l5.9 -5.9M279.2 183.9h8.4M283.4 179.7v8.4M280.4 180.9l5.9 5.9M280.4 186.9l5.9 -5.9M255.1 187.2h8.4M259.3 183.0v8.4M256.3 184.2l5.9 5.9M256.3 190.2l5.9 -5.9M269.3 187.2h8.4M273.5 183.0v8.4M270.5 184.2l5.9 5.9M270.5 190.2l5.9 -5.9M277.0 187.2h8.4M281.2 183.0v8.4M278.2 184.2l5.9 5.9M278.2 190.2l5.9 -5.9M286.9 172.9h8.4M291.1 168.7v8.4M288.1 169.9l5.9 5.9M288.1 175.9l5.9 -5.9M237.2 202.2h8.4M241.4 198.0v8.4M238.4 199.2l5.9 5.9M238.4 205.2l5.9 -5.9M247.1 203.3h8.4M251.3 199.1v8.4M248.3 200.3l5.9 5.9M248.3 206.3l5.9 -5.9M253.7 201.1h8.4M257.9 196.9v8.4M254.9 198.1l5.9 5.9M254.9 204.1l5.9 -5.9M261.4 202.2h8.4M265.6 198.0v8.4M262.6 199.2l5.9 5.9M262.6 205.2l5.9 -5.9M263.6 206.6h8.4M267.8 202.4v8.4M264.8 203.6l5.9 5.9M264.8 209.6l5.9 -5.9M247.1 209.9h8.4M251.3 205.7v8.4M248.3 206.9l5.9 5.9M248.3 212.9l5.9 -5.9M258.1 213.2h8.4M262.3 209.0v8.4M259.3 210.2l5.9 5.9M259.3 216.2l5.9 -5.9M260.3 216.4h8.4M264.5 212.2v8.4M261.5 213.4l5.9 5.9M261.5 219.4l5.9 -5.9M242.7 213.2h8.4M246.9 209.0v8.4M243.9 210.2l5.9 5.9M243.9 216.2l5.9 -5.9M248.2 214.3h8.4M252.4 210.1v8.4M249.4 211.3l5.9 5.9M249.4 217.3l5.9 -5.9M231.8 206.6h8.4M236.0 202.4v8.4M233.0 203.6l5.9 5.9M233.0 209.6l5.9 -5.9M235.1 214.3h8.4M239.3 210.1v8.4M236.3 211.3l5.9 5.9M236.3 217.3l5.9 -5.9M239.4 218.6h8.4M243.6 214.4v8.4M240.6 215.6l5.9 5.9M240.6 221.6l5.9 -5.9M232.9 220.8h8.4M237.1 216.6v8.4M234.1 217.8l5.9 5.9M234.1 223.8l5.9 -5.9M227.4 218.6h8.4M231.6 214.4v8.4M228.6 215.6l5.9 5.9M228.6 221.6l5.9 -5.9M223.0 221.9h8.4M227.2 217.7v8.4M224.2 218.9l5.9 5.9M224.2 224.9l5.9 -5.9M240.5 224.1h8.4M244.7 219.9v8.4M241.7 221.1l5.9 5.9M241.7 227.1l5.9 -5.9M235.1 226.3h8.4M239.3 222.1v8.4M236.3 223.3l5.9 5.9M236.3 229.3l5.9 -5.9M228.5 226.3h8.4M232.7 222.1v8.4M229.7 223.3l5.9 5.9M229.7 229.3l5.9 -5.9M239.4 229.6h8.4M243.6 225.4v8.4M240.6 226.6l5.9 5.9M240.6 232.6l5.9 -5.9M230.7 230.7h8.4M234.9 226.5v8.4M231.9 227.7l5.9 5.9M231.9 233.7l5.9 -5.9M225.2 231.8h8.4M229.4 227.6v8.4M226.4 228.8l5.9 5.9M226.4 234.8l5.9 -5.9M234.0 234.0h8.4M238.2 229.8v8.4M235.2 231.0l5.9 5.9M235.2 237.0l5.9 -5.9M228.5 236.2h8.4M232.7 232.0v8.4M229.7 233.2l5.9 5.9M229.7 239.2l5.9 -5.9M223.0 237.3h8.4M227.2 233.1v8.4M224.2 234.3l5.9 5.9M224.2 240.3l5.9 -5.9M220.8 230.7h8.4M225.0 226.5v8.4M222.0 227.7l5.9 5.9M222.0 233.7l5.9 -5.9" stroke="#77AC30" stroke-width="0.95" fill="none"/><path d="M173.6 227.7h0M181.6 234.3h0M193.3 224.1h0M201.3 224.8h0M208.5 209.5h0M201.3 232.8h0M199.8 238.6h0M173.6 245.9h0M179.5 249.5h0M194.0 248.8h0M205.6 243.0h0M327.4 94.0h0M315.6 103.0h0M303.4 109.4h0M302.4 116.6h0M296.0 123.0h0M303.4 125.0h0M289.6 127.0h0M287.0 130.0h0M312.0 131.0h0M289.0 138.0h0M281.0 139.4h0M282.4 143.4h0M301.0 143.0h0M276.0 149.0h0M309.5 154.2h0M246.5 156.5h0M250.2 152.2h0M260.4 156.5h0M266.2 154.4h0M257.5 163.1h0M264.7 163.8h0M271.3 157.3h0M277.8 152.9h0M282.2 158.7h0M288.0 152.9h0M290.9 161.6h0M277.8 164.5h0M273.5 171.8h0M280.7 168.9h0M285.1 167.5h0M258.9 170.4h0M254.5 179.1h0M261.8 177.6h0M267.6 180.5h0M276.4 179.1h0M283.6 184.9h0M279.3 188.5h0M270.5 187.8h0M263.3 186.4h0M256.0 187.8h0M258.9 195.1h0M251.6 193.6h0M266.2 196.5h0M254.5 200.9h0M247.3 200.9h0M261.8 203.8h0M269.1 205.3h0M244.4 206.7h0M308.4 179.1h0M211.9 197.1h0M222.8 192.6h0M222.0 197.5h0M210.6 207.3h0M217.9 206.5h0M220.5 212.3h0M214.1 214.8h0M211.5 221.8h0M219.2 220.5h0M226.8 216.7h0M233.2 211.6h0M239.5 207.8h0M237.0 216.7h0M242.1 215.5h0M247.2 210.4h0M251.0 204.0h0M257.4 197.6h0M254.8 212.9h0M259.9 211.6h0M230.6 223.1h0M237.0 223.1h0M242.1 225.6h0M225.5 226.9h0M219.2 228.2h0M215.4 232.0h0M223.0 234.5h0M230.6 232.0h0M233.2 237.1h0M224.3 240.3h0M210.3 239.6h0M251.0 197.6h0M245.9 195.1h0M256.5 201.5h0M261.5 212.4h0M264.5 215.3h0M269.5 200.0h0M172.7 247.7h0M178.2 265.0h0M172.7 273.2h0M186.4 280.5h0M153.6 293.2h0M191.8 256.8h0M202.7 262.3h0M199.1 259.5h0M210.9 256.8h0M216.4 247.7h0M206.4 251.4h0M200.9 239.5h0M208.2 243.2h0M229.1 254.1h0M224.5 237.7h0M233.6 236.8h0M182.7 236.8h0M193.6 248.6h0M249.9 152.6h0M246.1 156.4h0M281.2 142.2h0M286.7 141.1h0M276.8 148.8h0M288.9 153.2h0M264.2 155.4h0M271.3 156.4h0M258.2 161.9h0M263.6 161.9h0M275.7 161.9h0M280.1 160.8h0M286.7 160.8h0M277.9 167.4h0M283.4 168.5h0M288.9 165.2h0M256.0 168.5h0M270.2 171.8h0M273.5 174.0h0M280.1 172.9h0M257.1 175.1h0M262.5 176.2h0M266.9 179.5h0M260.4 181.7h0M269.1 182.8h0M277.9 181.7h0M283.4 183.9h0M259.3 187.2h0M273.5 187.2h0M281.2 187.2h0M291.1 172.9h0M241.4 202.2h0M251.3 203.3h0M257.9 201.1h0M265.6 202.2h0M267.8 206.6h0M251.3 209.9h0M262.3 213.2h0M264.5 216.4h0M246.9 213.2h0M252.4 214.3h0M236.0 206.6h0M239.3 214.3h0M243.6 218.6h0M237.1 220.8h0M231.6 218.6h0M227.2 221.9h0M244.7 224.1h0M239.3 226.3h0M232.7 226.3h0M243.6 229.6h0M234.9 230.7h0M229.4 231.8h0M238.2 234.0h0M232.7 236.2h0M227.2 237.3h0M225.0 230.7h0" stroke="#77AC30" stroke-width="2.6" stroke-linecap="round" fill="none"/>
<path d="M353.1 261.0h8.4M357.3 256.8v8.4M354.3 258.0l5.9 5.9M354.3 264.0l5.9 -5.9M378.5 263.2h8.4M382.7 259.0v8.4M379.7 260.2l5.9 5.9M379.7 266.2l5.9 -5.9M388.5 267.7h8.4M392.7 263.5v8.4M389.7 264.7l5.9 5.9M389.7 270.7l5.9 -5.9M397.6 252.3h8.4M401.8 248.1v8.4M398.8 249.3l5.9 5.9M398.8 255.3l5.9 -5.9M401.3 258.6h8.4M405.5 254.4v8.4M402.5 255.6l5.9 5.9M402.5 261.6l5.9 -5.9M403.1 263.2h8.4M407.3 259.0v8.4M404.3 260.2l5.9 5.9M404.3 266.2l5.9 -5.9M396.7 266.8h8.4M400.9 262.6v8.4M397.9 263.8l5.9 5.9M397.9 269.8l5.9 -5.9M402.2 271.4h8.4M406.4 267.2v8.4M403.4 268.4l5.9 5.9M403.4 274.4l5.9 -5.9M394.0 283.2h8.4M398.2 279.0v8.4M395.2 280.2l5.9 5.9M395.2 286.2l5.9 -5.9M371.3 291.9h8.4M375.5 287.7v8.4M372.5 288.9l5.9 5.9M372.5 294.9l5.9 -5.9M347.6 295.9h8.4M351.8 291.7v8.4M348.8 292.9l5.9 5.9M348.8 298.9l5.9 -5.9M414.0 257.7h8.4M418.2 253.5v8.4M415.2 254.7l5.9 5.9M415.2 260.7l5.9 -5.9M408.5 250.5h8.4M412.7 246.3v8.4M409.7 247.5l5.9 5.9M409.7 253.5l5.9 -5.9M412.2 245.0h8.4M416.4 240.8v8.4M413.4 242.0l5.9 5.9M413.4 248.0l5.9 -5.9M408.5 241.4h8.4M412.7 237.2v8.4M409.7 238.4l5.9 5.9M409.7 244.4l5.9 -5.9M415.8 248.6h8.4M420.0 244.4v8.4M417.0 245.6l5.9 5.9M417.0 251.6l5.9 -5.9M404.9 246.8h8.4M409.1 242.6v8.4M406.1 243.8l5.9 5.9M406.1 249.8l5.9 -5.9M399.4 228.6h8.4M403.6 224.4v8.4M400.6 225.6l5.9 5.9M400.6 231.6l5.9 -5.9M404.0 232.3h8.4M408.2 228.1v8.4M405.2 229.3l5.9 5.9M405.2 235.3l5.9 -5.9M410.3 235.9h8.4M414.5 231.7v8.4M411.5 232.9l5.9 5.9M411.5 238.9l5.9 -5.9M414.0 239.5h8.4M418.2 235.3v8.4M415.2 236.5l5.9 5.9M415.2 242.5l5.9 -5.9M406.7 226.8h8.4M410.9 222.6v8.4M407.9 223.8l5.9 5.9M407.9 229.8l5.9 -5.9M429.4 246.8h8.4M433.6 242.6v8.4M430.6 243.8l5.9 5.9M430.6 249.8l5.9 -5.9M386.7 258.6h8.4M390.9 254.4v8.4M387.9 255.6l5.9 5.9M387.9 261.6l5.9 -5.9M424.0 167.4h8.4M428.2 163.2v8.4M425.2 164.4l5.9 5.9M425.2 170.4l5.9 -5.9M441.4 168.8h8.4M445.6 164.6v8.4M442.6 165.8l5.9 5.9M442.6 171.8l5.9 -5.9M413.8 181.9h8.4M418.0 177.7v8.4M415.0 178.9l5.9 5.9M415.0 184.9l5.9 -5.9M423.3 179.7h8.4M427.5 175.5v8.4M424.5 176.7l5.9 5.9M424.5 182.7l5.9 -5.9M435.6 176.8h8.4M439.8 172.6v8.4M436.8 173.8l5.9 5.9M436.8 179.8l5.9 -5.9M441.4 179.7h8.4M445.6 175.5v8.4M442.6 176.7l5.9 5.9M442.6 182.7l5.9 -5.9M408.0 199.4h8.4M412.2 195.2v8.4M409.2 196.4l5.9 5.9M409.2 202.4l5.9 -5.9M416.7 200.1h8.4M420.9 195.9v8.4M417.9 197.1l5.9 5.9M417.9 203.1l5.9 -5.9M423.3 204.5h8.4M427.5 200.3v8.4M424.5 201.5l5.9 5.9M424.5 207.5l5.9 -5.9M426.9 192.8h8.4M431.1 188.6v8.4M428.1 189.8l5.9 5.9M428.1 195.8l5.9 -5.9M432.7 187.0h8.4M436.9 182.8v8.4M433.9 184.0l5.9 5.9M433.9 190.0l5.9 -5.9M440.0 188.5h8.4M444.2 184.3v8.4M441.2 185.5l5.9 5.9M441.2 191.5l5.9 -5.9M444.3 184.1h8.4M448.5 179.9v8.4M445.5 181.1l5.9 5.9M445.5 187.1l5.9 -5.9M434.2 195.7h8.4M438.4 191.5v8.4M435.4 192.7l5.9 5.9M435.4 198.7l5.9 -5.9M441.4 195.7h8.4M445.6 191.5v8.4M442.6 192.7l5.9 5.9M442.6 198.7l5.9 -5.9M429.8 201.5h8.4M434.0 197.3v8.4M431.0 198.5l5.9 5.9M431.0 204.5l5.9 -5.9M438.5 203.0h8.4M442.7 198.8v8.4M439.7 200.0l5.9 5.9M439.7 206.0l5.9 -5.9M400.0 211.7h8.4M404.2 207.5v8.4M401.2 208.7l5.9 5.9M401.2 214.7l5.9 -5.9M415.3 211.7h8.4M419.5 207.5v8.4M416.5 208.7l5.9 5.9M416.5 214.7l5.9 -5.9M459.1 143.6h8.4M463.3 139.4v8.4M460.3 140.6l5.9 5.9M460.3 146.6l5.9 -5.9M473.6 146.5h8.4M477.8 142.3v8.4M474.8 143.5l5.9 5.9M474.8 149.5l5.9 -5.9M456.2 152.4h8.4M460.4 148.2v8.4M457.4 149.4l5.9 5.9M457.4 155.4l5.9 -5.9M467.1 150.2h8.4M471.3 146.0v8.4M468.3 147.2l5.9 5.9M468.3 153.2l5.9 -5.9M469.3 153.8h8.4M473.5 149.6v8.4M470.5 150.8l5.9 5.9M470.5 156.8l5.9 -5.9M462.0 158.2h8.4M466.2 154.0v8.4M463.2 155.2l5.9 5.9M463.2 161.2l5.9 -5.9M458.3 161.8h8.4M462.5 157.6v8.4M459.5 158.8l5.9 5.9M459.5 164.8l5.9 -5.9M479.4 153.8h8.4M483.6 149.6v8.4M480.6 150.8l5.9 5.9M480.6 156.8l5.9 -5.9M483.8 151.6h8.4M488.0 147.4v8.4M485.0 148.6l5.9 5.9M485.0 154.6l5.9 -5.9M492.5 144.4h8.4M496.7 140.2v8.4M493.7 141.4l5.9 5.9M493.7 147.4l5.9 -5.9M499.8 145.8h8.4M504.0 141.6v8.4M501.0 142.8l5.9 5.9M501.0 148.8l5.9 -5.9M494.0 157.5h8.4M498.2 153.3v8.4M495.2 154.5l5.9 5.9M495.2 160.5l5.9 -5.9M486.7 141.5h8.4M490.9 137.3v8.4M487.9 138.5l5.9 5.9M487.9 144.5l5.9 -5.9M508.5 164.7h8.4M512.7 160.5v8.4M509.7 161.7l5.9 5.9M509.7 167.7l5.9 -5.9M511.4 140.0h8.4M515.6 135.8v8.4M512.6 137.0l5.9 5.9M512.6 143.0l5.9 -5.9M441.6 169.1h8.4M445.8 164.9v8.4M442.8 166.1l5.9 5.9M442.8 172.1l5.9 -5.9M450.3 170.5h8.4M454.5 166.3v8.4M451.5 167.5l5.9 5.9M451.5 173.5l5.9 -5.9M459.1 167.6h8.4M463.3 163.4v8.4M460.3 164.6l5.9 5.9M460.3 170.6l5.9 -5.9M464.9 169.1h8.4M469.1 164.9v8.4M466.1 166.1l5.9 5.9M466.1 172.1l5.9 -5.9M472.2 166.2h8.4M476.4 162.0v8.4M473.4 163.2l5.9 5.9M473.4 169.2l5.9 -5.9M479.4 163.3h8.4M483.6 159.1v8.4M480.6 160.3l5.9 5.9M480.6 166.3l5.9 -5.9M485.3 167.6h8.4M489.5 163.4v8.4M486.5 164.6l5.9 5.9M486.5 170.6l5.9 -5.9M488.2 170.5h8.4M492.4 166.3v8.4M489.4 167.5l5.9 5.9M489.4 173.5l5.9 -5.9M454.7 174.9h8.4M458.9 170.7v8.4M455.9 171.9l5.9 5.9M455.9 177.9l5.9 -5.9M464.9 174.9h8.4M469.1 170.7v8.4M466.1 171.9l5.9 5.9M466.1 177.9l5.9 -5.9M475.1 174.9h8.4M479.3 170.7v8.4M476.3 171.9l5.9 5.9M476.3 177.9l5.9 -5.9M482.3 173.5h8.4M486.5 169.3v8.4M483.5 170.5l5.9 5.9M483.5 176.5l5.9 -5.9M437.3 177.8h8.4M441.5 173.6v8.4M438.5 174.8l5.9 5.9M438.5 180.8l5.9 -5.9M444.5 180.7h8.4M448.7 176.5v8.4M445.7 177.7l5.9 5.9M445.7 183.7l5.9 -5.9M453.3 182.2h8.4M457.5 178.0v8.4M454.5 179.2l5.9 5.9M454.5 185.2l5.9 -5.9M460.5 179.3h8.4M464.7 175.1v8.4M461.7 176.3l5.9 5.9M461.7 182.3l5.9 -5.9M470.7 183.6h8.4M474.9 179.4v8.4M471.9 180.6l5.9 5.9M471.9 186.6l5.9 -5.9M469.3 189.5h8.4M473.5 185.3v8.4M470.5 186.5l5.9 5.9M470.5 192.5l5.9 -5.9M472.2 195.3h8.4M476.4 191.1v8.4M473.4 192.3l5.9 5.9M473.4 198.3l5.9 -5.9M440.2 188.0h8.4M444.4 183.8v8.4M441.4 185.0l5.9 5.9M441.4 191.0l5.9 -5.9M448.9 188.0h8.4M453.1 183.8v8.4M450.1 185.0l5.9 5.9M450.1 191.0l5.9 -5.9M456.2 186.5h8.4M460.4 182.3v8.4M457.4 183.5l5.9 5.9M457.4 189.5l5.9 -5.9M438.7 195.3h8.4M442.9 191.1v8.4M439.9 192.3l5.9 5.9M439.9 198.3l5.9 -5.9M451.8 195.3h8.4M456.0 191.1v8.4M453.0 192.3l5.9 5.9M453.0 198.3l5.9 -5.9M460.5 196.7h8.4M464.7 192.5v8.4M461.7 193.7l5.9 5.9M461.7 199.7l5.9 -5.9M529.4 85.5h8.4M533.6 81.3v8.4M530.6 82.5l5.9 5.9M530.6 88.5l5.9 -5.9M513.1 91.8h8.4M517.3 87.6v8.4M514.3 88.8l5.9 5.9M514.3 94.8l5.9 -5.9M514.5 94.5h8.4M518.7 90.3v8.4M515.7 91.5l5.9 5.9M515.7 97.5l5.9 -5.9M528.5 98.2h8.4M532.7 94.0v8.4M529.7 95.2l5.9 5.9M529.7 101.2l5.9 -5.9M540.3 102.7h8.4M544.5 98.5v8.4M541.5 99.7l5.9 5.9M541.5 105.7l5.9 -5.9M505.8 103.6h8.4M510.0 99.4v8.4M507.0 100.6l5.9 5.9M507.0 106.6l5.9 -5.9M494.9 106.4h8.4M499.1 102.2v8.4M496.1 103.4l5.9 5.9M496.1 109.4l5.9 -5.9M495.8 112.7h8.4M500.0 108.5v8.4M497.0 109.7l5.9 5.9M497.0 115.7l5.9 -5.9M516.7 121.8h8.4M520.9 117.6v8.4M517.9 118.8l5.9 5.9M517.9 124.8l5.9 -5.9M534.1 119.8h8.4M538.3 115.6v8.4M535.3 116.8l5.9 5.9M535.3 122.8l5.9 -5.9M474.0 123.6h8.4M478.2 119.4v8.4M475.2 120.6l5.9 5.9M475.2 126.6l5.9 -5.9M484.9 126.4h8.4M489.1 122.2v8.4M486.1 123.4l5.9 5.9M486.1 129.4l5.9 -5.9M493.1 122.7h8.4M497.3 118.5v8.4M494.3 119.7l5.9 5.9M494.3 125.7l5.9 -5.9M490.3 129.1h8.4M494.5 124.9v8.4M491.5 126.1l5.9 5.9M491.5 132.1l5.9 -5.9M470.3 130.9h8.4M474.5 126.7v8.4M471.5 127.9l5.9 5.9M471.5 133.9l5.9 -5.9M496.7 135.5h8.4M500.9 131.3v8.4M497.9 132.5l5.9 5.9M497.9 138.5l5.9 -5.9M486.7 139.1h8.4M490.9 134.9v8.4M487.9 136.1l5.9 5.9M487.9 142.1l5.9 -5.9M511.3 138.2h8.4M515.5 134.0v8.4M512.5 135.2l5.9 5.9M512.5 141.2l5.9 -5.9M494.9 140.0h8.4M499.1 135.8v8.4M496.1 137.0l5.9 5.9M496.1 143.0l5.9 -5.9M459.4 144.5h8.4M463.6 140.3v8.4M460.6 141.5l5.9 5.9M460.6 147.5l5.9 -5.9M473.1 145.5h8.4M477.3 141.3v8.4M474.3 142.5l5.9 5.9M474.3 148.5l5.9 -5.9M500.3 145.5h8.4M504.5 141.3v8.4M501.5 142.5l5.9 5.9M501.5 148.5l5.9 -5.9M465.8 150.0h8.4M470.0 145.8v8.4M467.0 147.0l5.9 5.9M467.0 153.0l5.9 -5.9M454.9 151.8h8.4M459.1 147.6v8.4M456.1 148.8l5.9 5.9M456.1 154.8l5.9 -5.9M399.5 213.2h8.4M403.7 209.0v8.4M400.7 210.2l5.9 5.9M400.7 216.2l5.9 -5.9M411.2 216.8h8.4M415.4 212.6v8.4M412.4 213.8l5.9 5.9M412.4 219.8l5.9 -5.9M406.8 221.2h8.4M411.0 217.0v8.4M408.0 218.2l5.9 5.9M408.0 224.2l5.9 -5.9M402.4 227.0h8.4M406.6 222.8v8.4M403.6 224.0l5.9 5.9M403.6 230.0l5.9 -5.9M398.1 231.4h8.4M402.3 227.2v8.4M399.3 228.4l5.9 5.9M399.3 234.4l5.9 -5.9M408.3 232.8h8.4M412.5 228.6v8.4M409.5 229.8l5.9 5.9M409.5 235.8l5.9 -5.9M412.6 228.5h8.4M416.8 224.3v8.4M413.8 225.5l5.9 5.9M413.8 231.5l5.9 -5.9M405.3 238.6h8.4M409.5 234.4v8.4M406.5 235.6l5.9 5.9M406.5 241.6l5.9 -5.9M412.6 240.1h8.4M416.8 235.9v8.4M413.8 237.1l5.9 5.9M413.8 243.1l5.9 -5.9M409.7 245.9h8.4M413.9 241.7v8.4M410.9 242.9l5.9 5.9M410.9 248.9l5.9 -5.9M399.5 245.9h8.4M403.7 241.7v8.4M400.7 242.9l5.9 5.9M400.7 248.9l5.9 -5.9M396.6 251.0h8.4M400.8 246.8v8.4M397.8 248.0l5.9 5.9M397.8 254.0l5.9 -5.9M417.0 248.8h8.4M421.2 244.6v8.4M418.2 245.8l5.9 5.9M418.2 251.8l5.9 -5.9M450.4 219.7h8.4M454.6 215.5v8.4M451.6 216.7l5.9 5.9M451.6 222.7l5.9 -5.9M450.4 231.4h8.4M454.6 227.2v8.4M451.6 228.4l5.9 5.9M451.6 234.4l5.9 -5.9M424.3 208.1h8.4M428.5 203.9v8.4M425.5 205.1l5.9 5.9M425.5 211.1l5.9 -5.9M430.1 202.3h8.4M434.3 198.1v8.4M431.3 199.3l5.9 5.9M431.3 205.3l5.9 -5.9M434.4 197.9h8.4M438.6 193.7v8.4M435.6 194.9l5.9 5.9M435.6 200.9l5.9 -5.9M440.3 205.2h8.4M444.5 201.0v8.4M441.5 202.2l5.9 5.9M441.5 208.2l5.9 -5.9M447.5 208.1h8.4M451.7 203.9v8.4M448.7 205.1l5.9 5.9M448.7 211.1l5.9 -5.9M451.9 203.7h8.4M456.1 199.5v8.4M453.1 200.7l5.9 5.9M453.1 206.7l5.9 -5.9M456.3 199.4h8.4M460.5 195.2v8.4M457.5 196.4l5.9 5.9M457.5 202.4l5.9 -5.9M466.4 200.8h8.4M470.6 196.6v8.4M467.6 197.8l5.9 5.9M467.6 203.8l5.9 -5.9M460.6 205.2h8.4M464.8 201.0v8.4M461.8 202.2l5.9 5.9M461.8 208.2l5.9 -5.9M466.4 206.6h8.4M470.6 202.4v8.4M467.6 203.6l5.9 5.9M467.6 209.6l5.9 -5.9M424.3 199.4h8.4M428.5 195.2v8.4M425.5 196.4l5.9 5.9M425.5 202.4l5.9 -5.9M395.2 231.4h8.4M399.4 227.2v8.4M396.4 228.4l5.9 5.9M396.4 234.4l5.9 -5.9M456.0 188.5h8.4M460.2 184.3v8.4M457.2 185.5l5.9 5.9M457.2 191.5l5.9 -5.9M470.7 189.3h8.4M474.9 185.1v8.4M471.9 186.3l5.9 5.9M471.9 192.3l5.9 -5.9M457.7 204.0h8.4M461.9 199.8v8.4M458.9 201.0l5.9 5.9M458.9 207.0l5.9 -5.9M467.2 204.9h8.4M471.4 200.7v8.4M468.4 201.9l5.9 5.9M468.4 207.9l5.9 -5.9M456.3 152.7h8.4M460.5 148.5v8.4M457.5 149.7l5.9 5.9M457.5 155.7l5.9 -5.9M468.5 153.2h8.4M472.7 149.0v8.4M469.7 150.2l5.9 5.9M469.7 156.2l5.9 -5.9M460.3 159.1h8.4M464.5 154.9v8.4M461.5 156.1l5.9 5.9M461.5 162.1l5.9 -5.9M456.7 160.9h8.4M460.9 156.7v8.4M457.9 157.9l5.9 5.9M457.9 163.9l5.9 -5.9M464.0 163.6h8.4M468.2 159.4v8.4M465.2 160.6l5.9 5.9M465.2 166.6l5.9 -5.9M469.4 162.7h8.4M473.6 158.5v8.4M470.6 159.7l5.9 5.9M470.6 165.7l5.9 -5.9M473.1 161.8h8.4M477.3 157.6v8.4M474.3 158.8l5.9 5.9M474.3 164.8l5.9 -5.9M441.7 169.1h8.4M445.9 164.9v8.4M442.9 166.1l5.9 5.9M442.9 172.1l5.9 -5.9M451.3 170.9h8.4M455.5 166.7v8.4M452.5 167.9l5.9 5.9M452.5 173.9l5.9 -5.9M457.6 168.2h8.4M461.8 164.0v8.4M458.8 165.2l5.9 5.9M458.8 171.2l5.9 -5.9M462.2 170.9h8.4M466.4 166.7v8.4M463.4 167.9l5.9 5.9M463.4 173.9l5.9 -5.9M466.7 168.2h8.4M470.9 164.0v8.4M467.9 165.2l5.9 5.9M467.9 171.2l5.9 -5.9M437.6 177.3h8.4M441.8 173.1v8.4M438.8 174.3l5.9 5.9M438.8 180.3l5.9 -5.9M444.0 175.5h8.4M448.2 171.3v8.4M445.2 172.5l5.9 5.9M445.2 178.5l5.9 -5.9M449.4 175.5h8.4M453.6 171.3v8.4M450.6 172.5l5.9 5.9M450.6 178.5l5.9 -5.9M454.9 175.5h8.4M459.1 171.3v8.4M456.1 172.5l5.9 5.9M456.1 178.5l5.9 -5.9M459.4 177.3h8.4M463.6 173.1v8.4M460.6 174.3l5.9 5.9M460.6 180.3l5.9 -5.9M464.0 174.5h8.4M468.2 170.3v8.4M465.2 171.5l5.9 5.9M465.2 177.5l5.9 -5.9M469.4 173.6h8.4M473.6 169.4v8.4M470.6 170.6l5.9 5.9M470.6 176.6l5.9 -5.9M473.1 176.4h8.4M477.3 172.2v8.4M474.3 173.4l5.9 5.9M474.3 179.4l5.9 -5.9M434.9 181.8h8.4M439.1 177.6v8.4M436.1 178.8l5.9 5.9M436.1 184.8l5.9 -5.9M441.3 180.9h8.4M445.5 176.7v8.4M442.5 177.9l5.9 5.9M442.5 183.9l5.9 -5.9M448.5 180.0h8.4M452.7 175.8v8.4M449.7 177.0l5.9 5.9M449.7 183.0l5.9 -5.9M453.1 181.8h8.4M457.3 177.6v8.4M454.3 178.8l5.9 5.9M454.3 184.8l5.9 -5.9M458.5 183.6h8.4M462.7 179.4v8.4M459.7 180.6l5.9 5.9M459.7 186.6l5.9 -5.9M431.3 186.4h8.4M435.5 182.2v8.4M432.5 183.4l5.9 5.9M432.5 189.4l5.9 -5.9M437.6 186.4h8.4M441.8 182.2v8.4M438.8 183.4l5.9 5.9M438.8 189.4l5.9 -5.9M444.0 187.3h8.4M448.2 183.1v8.4M445.2 184.3l5.9 5.9M445.2 190.3l5.9 -5.9M451.3 186.4h8.4M455.5 182.2v8.4M452.5 183.4l5.9 5.9M452.5 189.4l5.9 -5.9M456.7 188.2h8.4M460.9 184.0v8.4M457.9 185.2l5.9 5.9M457.9 191.2l5.9 -5.9M470.3 184.5h8.4M474.5 180.3v8.4M471.5 181.5l5.9 5.9M471.5 187.5l5.9 -5.9M426.7 166.4h8.4M430.9 162.2v8.4M427.9 163.4l5.9 5.9M427.9 169.4l5.9 -5.9M425.8 179.0h8.4M430.0 174.8v8.4M427.0 176.0l5.9 5.9M427.0 182.0l5.9 -5.9M407.5 201.3h8.4M411.7 197.1v8.4M408.7 198.3l5.9 5.9M408.7 204.3l5.9 -5.9M417.4 202.0h8.4M421.6 197.8v8.4M418.6 199.0l5.9 5.9M418.6 205.0l5.9 -5.9M422.6 206.6h8.4M426.8 202.4v8.4M423.8 203.6l5.9 5.9M423.8 209.6l5.9 -5.9M399.6 213.2h8.4M403.8 209.0v8.4M400.8 210.2l5.9 5.9M400.8 216.2l5.9 -5.9M410.8 217.1h8.4M415.0 212.9v8.4M412.0 214.1l5.9 5.9M412.0 220.1l5.9 -5.9M414.7 214.5h8.4M418.9 210.3v8.4M415.9 211.5l5.9 5.9M415.9 217.5l5.9 -5.9M401.6 226.3h8.4M405.8 222.1v8.4M402.8 223.3l5.9 5.9M402.8 229.3l5.9 -5.9M406.8 223.7h8.4M411.0 219.5v8.4M408.0 220.7l5.9 5.9M408.0 226.7l5.9 -5.9M412.1 226.3h8.4M416.3 222.1v8.4M413.3 223.3l5.9 5.9M413.3 229.3l5.9 -5.9M399.0 231.6h8.4M403.2 227.4v8.4M400.2 228.6l5.9 5.9M400.2 234.6l5.9 -5.9M405.5 231.6h8.4M409.7 227.4v8.4M406.7 228.6l5.9 5.9M406.7 234.6l5.9 -5.9M413.4 234.2h8.4M417.6 230.0v8.4M414.6 231.2l5.9 5.9M414.6 237.2l5.9 -5.9M409.5 238.2h8.4M413.7 234.0v8.4M410.7 235.2l5.9 5.9M410.7 241.2l5.9 -5.9M414.7 239.5h8.4M418.9 235.3v8.4M415.9 236.5l5.9 5.9M415.9 242.5l5.9 -5.9M406.8 243.4h8.4M411.0 239.2v8.4M408.0 240.4l5.9 5.9M408.0 246.4l5.9 -5.9M412.1 246.1h8.4M416.3 241.9v8.4M413.3 243.1l5.9 5.9M413.3 249.1l5.9 -5.9M417.4 244.7h8.4M421.6 240.5v8.4M418.6 241.7l5.9 5.9M418.6 247.7l5.9 -5.9M401.6 247.4h8.4M405.8 243.2v8.4M402.8 244.4l5.9 5.9M402.8 250.4l5.9 -5.9M396.3 251.3h8.4M400.5 247.1v8.4M397.5 248.3l5.9 5.9M397.5 254.3l5.9 -5.9M405.5 252.6h8.4M409.7 248.4v8.4M406.7 249.6l5.9 5.9M406.7 255.6l5.9 -5.9M412.1 253.9h8.4M416.3 249.7v8.4M413.3 250.9l5.9 5.9M413.3 256.9l5.9 -5.9M400.3 256.6h8.4M404.5 252.4v8.4M401.5 253.6l5.9 5.9M401.5 259.6l5.9 -5.9M388.4 256.6h8.4M392.6 252.4v8.4M389.6 253.6l5.9 5.9M389.6 259.6l5.9 -5.9" stroke="#D95319" stroke-width="0.95" fill="none"/><path d="M357.3 261.0h0M382.7 263.2h0M392.7 267.7h0M401.8 252.3h0M405.5 258.6h0M407.3 263.2h0M400.9 266.8h0M406.4 271.4h0M398.2 283.2h0M375.5 291.9h0M351.8 295.9h0M418.2 257.7h0M412.7 250.5h0M416.4 245.0h0M412.7 241.4h0M420.0 248.6h0M409.1 246.8h0M403.6 228.6h0M408.2 232.3h0M414.5 235.9h0M418.2 239.5h0M410.9 226.8h0M433.6 246.8h0M390.9 258.6h0M428.2 167.4h0M445.6 168.8h0M418.0 181.9h0M427.5 179.7h0M439.8 176.8h0M445.6 179.7h0M412.2 199.4h0M420.9 200.1h0M427.5 204.5h0M431.1 192.8h0M436.9 187.0h0M444.2 188.5h0M448.5 184.1h0M438.4 195.7h0M445.6 195.7h0M434.0 201.5h0M442.7 203.0h0M404.2 211.7h0M419.5 211.7h0M463.3 143.6h0M477.8 146.5h0M460.4 152.4h0M471.3 150.2h0M473.5 153.8h0M466.2 158.2h0M462.5 161.8h0M483.6 153.8h0M488.0 151.6h0M496.7 144.4h0M504.0 145.8h0M498.2 157.5h0M490.9 141.5h0M512.7 164.7h0M515.6 140.0h0M445.8 169.1h0M454.5 170.5h0M463.3 167.6h0M469.1 169.1h0M476.4 166.2h0M483.6 163.3h0M489.5 167.6h0M492.4 170.5h0M458.9 174.9h0M469.1 174.9h0M479.3 174.9h0M486.5 173.5h0M441.5 177.8h0M448.7 180.7h0M457.5 182.2h0M464.7 179.3h0M474.9 183.6h0M473.5 189.5h0M476.4 195.3h0M444.4 188.0h0M453.1 188.0h0M460.4 186.5h0M442.9 195.3h0M456.0 195.3h0M464.7 196.7h0M533.6 85.5h0M517.3 91.8h0M518.7 94.5h0M532.7 98.2h0M544.5 102.7h0M510.0 103.6h0M499.1 106.4h0M500.0 112.7h0M520.9 121.8h0M538.3 119.8h0M478.2 123.6h0M489.1 126.4h0M497.3 122.7h0M494.5 129.1h0M474.5 130.9h0M500.9 135.5h0M490.9 139.1h0M515.5 138.2h0M499.1 140.0h0M463.6 144.5h0M477.3 145.5h0M504.5 145.5h0M470.0 150.0h0M459.1 151.8h0M403.7 213.2h0M415.4 216.8h0M411.0 221.2h0M406.6 227.0h0M402.3 231.4h0M412.5 232.8h0M416.8 228.5h0M409.5 238.6h0M416.8 240.1h0M413.9 245.9h0M403.7 245.9h0M400.8 251.0h0M421.2 248.8h0M454.6 219.7h0M454.6 231.4h0M428.5 208.1h0M434.3 202.3h0M438.6 197.9h0M444.5 205.2h0M451.7 208.1h0M456.1 203.7h0M460.5 199.4h0M470.6 200.8h0M464.8 205.2h0M470.6 206.6h0M428.5 199.4h0M399.4 231.4h0M460.2 188.5h0M474.9 189.3h0M461.9 204.0h0M471.4 204.9h0M460.5 152.7h0M472.7 153.2h0M464.5 159.1h0M460.9 160.9h0M468.2 163.6h0M473.6 162.7h0M477.3 161.8h0M445.9 169.1h0M455.5 170.9h0M461.8 168.2h0M466.4 170.9h0M470.9 168.2h0M441.8 177.3h0M448.2 175.5h0M453.6 175.5h0M459.1 175.5h0M463.6 177.3h0M468.2 174.5h0M473.6 173.6h0M477.3 176.4h0M439.1 181.8h0M445.5 180.9h0M452.7 180.0h0M457.3 181.8h0M462.7 183.6h0M435.5 186.4h0M441.8 186.4h0M448.2 187.3h0M455.5 186.4h0M460.9 188.2h0M474.5 184.5h0M430.9 166.4h0M430.0 179.0h0M411.7 201.3h0M421.6 202.0h0M426.8 206.6h0M403.8 213.2h0M415.0 217.1h0M418.9 214.5h0M405.8 226.3h0M411.0 223.7h0M416.3 226.3h0M403.2 231.6h0M409.7 231.6h0M417.6 234.2h0M413.7 238.2h0M418.9 239.5h0M411.0 243.4h0M416.3 246.1h0M421.6 244.7h0M405.8 247.4h0M400.5 251.3h0M409.7 252.6h0M416.3 253.9h0M404.5 256.6h0M392.6 256.6h0" stroke="#D95319" stroke-width="2.6" stroke-linecap="round" fill="none"/>
<rect x="171.4" y="113.2" width="50.2" height="49.8" fill="#000"/>
<rect x="368.3" y="113.2" width="50.2" height="49.8" fill="#000"/>
<rect x="269.9" y="228.1" width="50.2" height="49.8" fill="#000"/>
<circle cx="237.0" cy="177.0" r="16.3" fill="#0000f0" fill-opacity="0.9" stroke="#000" stroke-width="1.1"/>
<circle cx="436.1" cy="226.4" r="16.3" fill="#0000f0" fill-opacity="0.9" stroke="#000" stroke-width="1.1"/>
<line x1="159.7" y1="69.2" x2="119.0" y2="141.1" stroke="#222" stroke-width="1.0"/><polygon points="113.8,150.2 116.1,133.9 119.0,141.1 126.6,139.8" fill="#000"/>
<line x1="168.1" y1="315.5" x2="226.6" y2="202.5" stroke="#222" stroke-width="1.0"/><polygon points="231.4,193.2 229.7,209.5 226.6,202.5 219.0,204.0" fill="#000"/>
<line x1="477.8" y1="324.9" x2="446.3" y2="255.4" stroke="#222" stroke-width="1.0"/><polygon points="442.0,245.8 453.8,257.3 446.3,255.4 442.8,262.2" fill="#000"/>
<g font-family="Liberation Serif, Times New Roman, serif" fill="#111" font-size="20" stroke="#000" stroke-width="0.2" text-anchor="middle">
<text transform="translate(89.8,419.8) scale(1,1.17)">0</text>
<text transform="translate(155.4,419.8) scale(1,1.17)">2</text>
<text transform="translate(221.1,419.8) scale(1,1.17)">4</text>
<text transform="translate(286.7,419.8) scale(1,1.17)">6</text>
<text transform="translate(352.4,419.8) scale(1,1.17)">8</text>
<text transform="translate(418.0,419.8) scale(1,1.17)">10</text>
<text transform="translate(483.6,419.8) scale(1,1.17)">12</text>
</g>
<g font-family="Liberation Serif, Times New Roman, serif" fill="#111" font-size="20" stroke="#000" stroke-width="0.2" text-anchor="end">
<text transform="translate(46.6,39.6) scale(1,1.17)">5</text>
<text transform="translate(46.6,203.9) scale(1,1.17)">0</text>
<text transform="translate(46.6,368.2) scale(1,1.17)">-5</text>
</g>
<text font-family="Liberation Serif, Times New Roman, serif" fill="#111" font-size="22" x="299.5" y="446" text-anchor="middle">x(m)</text>
<text font-family="Liberation Serif, Times New Roman, serif" fill="#111" font-size="22" transform="translate(20.2,199) rotate(-90)" text-anchor="middle">y(m)</text>
<text font-family="Liberation Serif, Times New Roman, serif" fill="#111" font-size="16.3" stroke="#000" stroke-width="0.25" x="136.3" y="57.9">Reference path</text>
<text font-family="Liberation Serif, Times New Roman, serif" fill="#111" font-size="16.3" stroke="#000" stroke-width="0.25" x="164.5" y="101.1">Obstacle 1</text>
<text font-family="Liberation Serif, Times New Roman, serif" fill="#111" font-size="16.3" stroke="#000" stroke-width="0.25" x="357.2" y="102.7">Obstacle 2</text>
<text font-family="Liberation Serif, Times New Roman, serif" fill="#111" font-size="16.3" stroke="#000" stroke-width="0.25" x="261.5" y="301.4">Obstacle 3</text>
<text font-family="Liberation Serif, Times New Roman, serif" fill="#111" font-size="16.3" stroke="#000" stroke-width="0.25" x="104.5" y="332.2">New obstacle 1</text>
<text font-family="Liberation Serif, Times New Roman, serif" fill="#111" font-size="16.3" stroke="#000" stroke-width="0.25" x="421.4" y="339.6">New obstacle 2</text>
</svg>
</body></html>
